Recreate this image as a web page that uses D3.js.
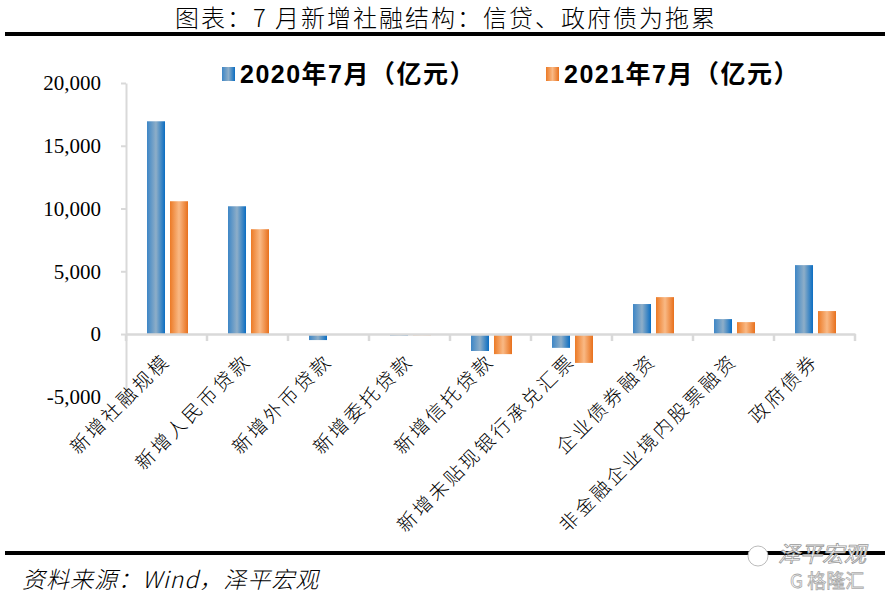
<!DOCTYPE html>
<html>
<head>
<meta charset="utf-8">
<script src="https://cdn.jsdelivr.net/npm/d3@7"></script>
<style>
  body { margin: 0; background: #fff; }
  svg { display: block; }
</style>
</head>
<body>
<svg id="chart" width="891" height="596"></svg>
<script>
const categories = ["新增社融规模", "新增人民币贷款", "新增外币贷款", "新增委托贷款", "新增信托贷款",
    "新增未贴现银行承兑汇票", "企业债券融资", "非金融企业境内股票融资", "政府债券"];
const seriesNames = ["2020年7月（亿元）", "2021年7月（亿元）"];
const values2020 = [16950, 10180, -480, -130, -1350, -1100, 2390, 1190, 5490];
const values2021 = [10580, 8350, -20, -100, -1600, -2300, 2940, 950, 1830];
const yTicks = [-5000, 0, 5000, 10000, 15000, 20000];

const svg = d3.select("#chart");

const cjk = "'Noto Sans CJK SC', sans-serif";

// bar gradients, light in the middle
const defs = svg.append("defs");
const grads = [
    { id: "gBlue", stops: ["#3d86c6", "#8eaec8", "#0a6dc2"] },
    { id: "gOrange", stops: ["#ec7a26", "#f9b985", "#e8701c"] }
];
grads.forEach(g => {
    const lg = defs.append("linearGradient").attr("id", g.id)
        .attr("x1", "0%").attr("x2", "100%").attr("y1", "0%").attr("y2", "0%");
    lg.append("stop").attr("offset", "0%").attr("stop-color", g.stops[0]);
    lg.append("stop").attr("offset", "50%").attr("stop-color", g.stops[1]);
    lg.append("stop").attr("offset", "100%").attr("stop-color", g.stops[2]);
});
const fills = ["url(#gBlue)", "url(#gOrange)"];

// title + rules
svg.append("text")
    .attr("x", 446).attr("y", 27)
    .attr("text-anchor", "middle")
    .style("font-family", cjk)
    .style("font-size", "24px")
    .style("font-weight", 300)
    .style("letter-spacing", "2px")
    .text("图表：7 月新增社融结构：信贷、政府债为拖累");

svg.append("rect").attr("x", 5).attr("y", 32).attr("width", 880).attr("height", 4).attr("fill", "#000");
svg.append("rect").attr("x", 5).attr("y", 551).attr("width", 880).attr("height", 4).attr("fill", "#000");

svg.append("text")
    .attr("x", 22).attr("y", 588)
    .style("font-family", cjk)
    .style("font-size", "23px")
    .style("font-style", "italic")
    .style("font-weight", 300)
    .style("letter-spacing", "1px")
    .text("资料来源：Wind，泽平宏观");

// scales
const x = d3.scaleBand().domain(categories).range([126, 855]);
const xs = d3.scaleBand().domain(seriesNames).range([21, 62]).paddingInner(0.217);
const y = d3.scaleLinear().domain([-5000, 20000]).range([396.8, 83]);

// y axis
const fmt = d3.format(",");
const yAxis = svg.append("g")
    .attr("transform", "translate(126,0)")
    .call(d3.axisLeft(y).tickValues(yTicks).tickSize(5).tickSizeOuter(0)
        .tickPadding(20).tickFormat(d => fmt(d).replace("\u2212", "-")));
yAxis.select(".domain").attr("stroke", "#d9d9d9").attr("stroke-width", 2);
yAxis.selectAll(".tick line").attr("stroke", "#d9d9d9").attr("stroke-width", 2);
yAxis.selectAll(".tick text")
    .style("font-family", "'Liberation Serif', serif")
    .style("font-size", "21px")
    .attr("fill", "#000");

// bars
const rows = categories.map((c, i) => ({ cat: c, vals: [values2020[i], values2021[i]] }));
const groups = svg.selectAll(".grp").data(rows).enter().append("g")
    .attr("transform", d => `translate(${x(d.cat)},0)`);
groups.selectAll("rect")
    .data(d => d.vals.map((v, j) => ({ name: seriesNames[j], v: v, j: j })))
    .enter().append("rect")
    .attr("x", d => xs(d.name))
    .attr("width", xs.bandwidth())
    .attr("y", d => y(Math.max(0, d.v)))
    .attr("height", d => Math.abs(y(d.v) - y(0)))
    .attr("fill", d => fills[d.j]);

// x axis at zero
const xAxis = svg.append("g")
    .attr("transform", `translate(0,${y(0)})`)
    .call(d3.axisBottom(x).tickSize(0).tickFormat(""));
xAxis.select(".domain").attr("stroke", "#d9d9d9").attr("stroke-width", 2.5);
const bounds = categories.map(c => x(c)).concat([x.range()[1]]);
xAxis.selectAll(".bnd").data(bounds).enter().append("line")
    .attr("x1", d => d).attr("x2", d => d)
    .attr("y1", 0).attr("y2", 7)
    .attr("stroke", "#d9d9d9").attr("stroke-width", 2.5);

svg.selectAll(".xlab").data(categories).enter().append("text")
    .attr("transform", d => `translate(${x(d) + x.bandwidth() / 2 + 5},362) rotate(-45)`)
    .attr("text-anchor", "end")
    .style("font-family", cjk)
    .style("font-size", "19px")
    .style("font-weight", 300)
    .style("letter-spacing", "3px")
    .text(d => d);

// legend
const legX = [222, 546];
const leg = svg.selectAll(".leg").data(seriesNames).enter().append("g")
    .attr("transform", (d, i) => `translate(${legX[i]},0)`);
leg.append("rect").attr("x", 0).attr("y", 67).attr("width", 13).attr("height", 14)
    .attr("fill", (d, i) => fills[i]);
leg.append("text")
    .attr("x", 18).attr("y", 83)
    .style("font-family", "'Liberation Sans', 'Noto Sans CJK SC', sans-serif")
    .style("font-size", "25px")
    .style("font-weight", "bold")
    .style("letter-spacing", "1.5px")
    .text(d => d);

// watermark
svg.append("text")
    .attr("x", 778).attr("y", 562)
    .style("font-family", cjk)
    .style("font-size", "22px")
    .style("font-style", "italic")
    .attr("fill", "#fff")
    .attr("stroke", "#999")
    .attr("stroke-width", 0.8)
    .text("泽平宏观");
svg.append("circle").attr("cx", 758).attr("cy", 556).attr("r", 10)
    .attr("fill", "#fff").attr("stroke", "#bbb").attr("stroke-width", 1);
svg.append("text")
    .attr("x", 790).attr("y", 588)
    .style("font-family", cjk)
    .style("font-size", "19px")
    .attr("fill", "#fff")
    .attr("stroke", "#aaa")
    .attr("stroke-width", 0.8)
    .text("G 格隆汇");
</script>
</body>
</html>
